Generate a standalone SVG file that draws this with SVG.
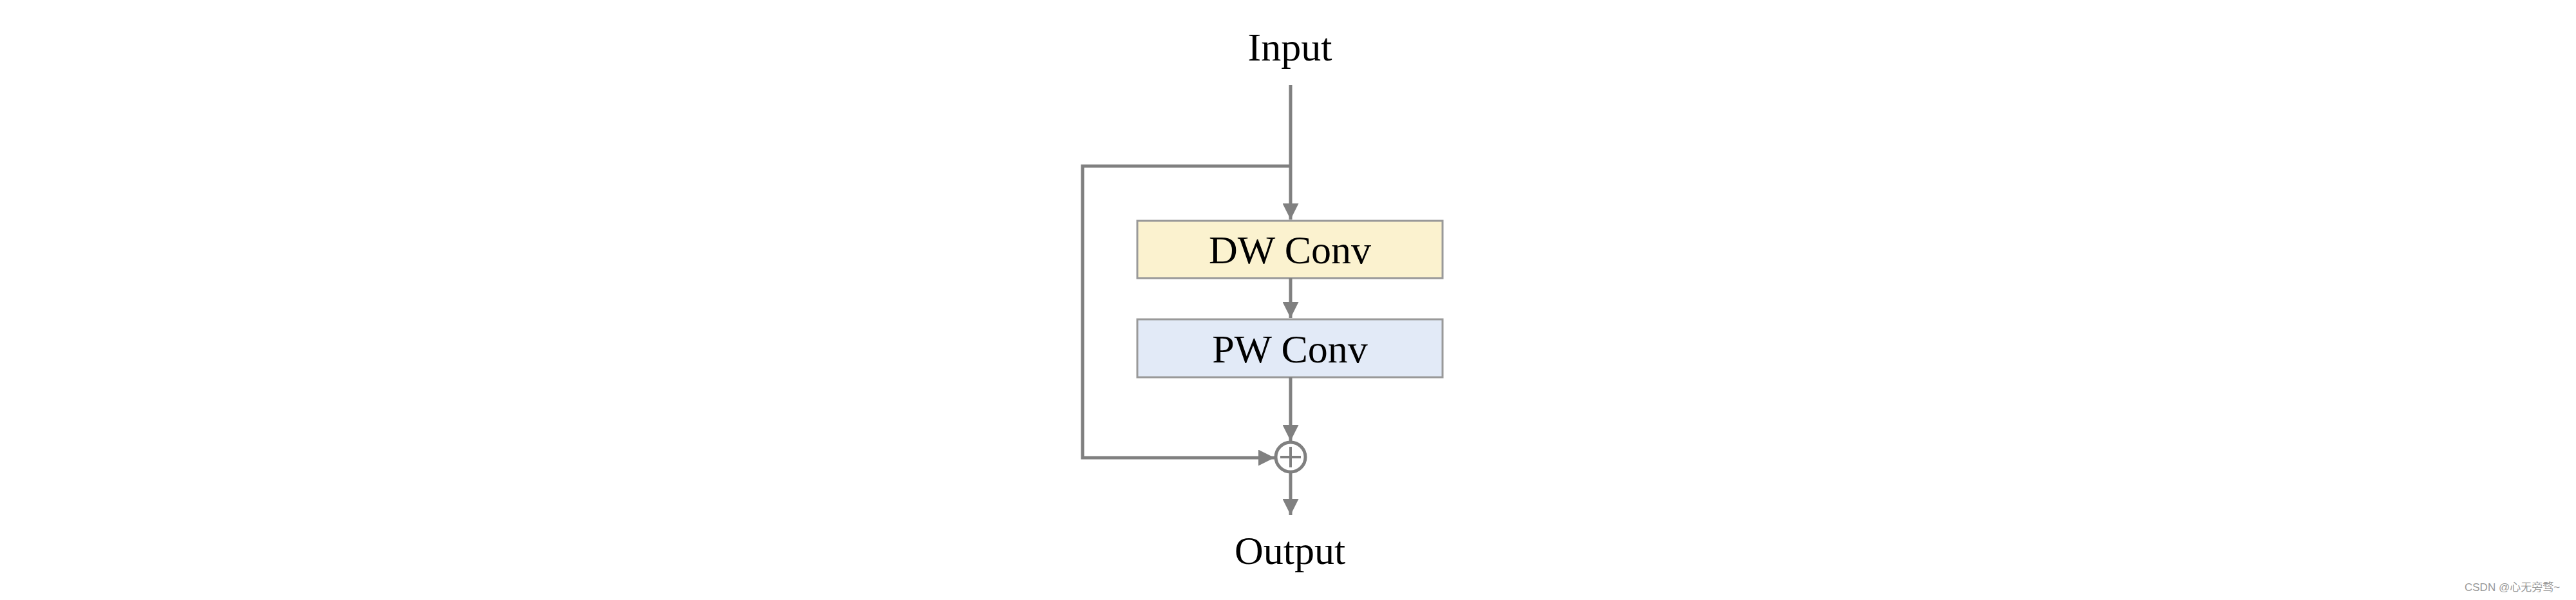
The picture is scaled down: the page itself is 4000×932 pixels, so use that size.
<svg xmlns="http://www.w3.org/2000/svg" width="4000" height="932" viewBox="0 0 4000 932">
<style>
.t{font-family:"Liberation Serif",serif;font-size:62px;fill:#000;text-anchor:middle}
.c{stroke:#808080;stroke-width:5;fill:none}
.b{stroke:#999;stroke-width:3}
</style>
<defs><marker id="a" viewBox="0 0 10 10" refX="10" refY="5" markerWidth="5" markerHeight="5" orient="auto" markerUnits="strokeWidth"><path d="M0,0L10,5L0,10z" fill="#808080"/></marker></defs>
<rect width="4000" height="932" fill="#fff"/>
<g id="input"><text class="t" x="2003" y="94">Input</text></g>
<g id="dw"><rect class="b" x="1766" y="343" width="474" height="89" fill="#fbf2cf"/><text class="t" x="2003" y="409">DW Conv</text></g>
<g id="pw"><rect class="b" x="1766" y="496" width="474" height="90" fill="#e2eaf7"/><text class="t" x="2003" y="563">PW Conv</text></g>
<g id="add"><circle cx="2004" cy="710" r="23" fill="#fff" stroke="#808080" stroke-width="5"/><path d="M2004,694V726M1988,710H2020" stroke="#808080" stroke-width="4"/></g>
<g id="output"><text class="t" x="2003" y="876">Output</text></g>
<g id="connectors">
<path class="c" d="M2004,132V341" marker-end="url(#a)"/>
<path class="c" d="M2004,258H1681V711H1979" marker-end="url(#a)"/>
<path class="c" d="M2004,432V494" marker-end="url(#a)"/>
<path class="c" d="M2004,586V685" marker-end="url(#a)"/>
<path class="c" d="M2004,733V800" marker-end="url(#a)"/>
</g>
<text x="3827" y="918" font-family="Liberation Sans,Noto Sans CJK SC,sans-serif" font-size="17" fill="#999">CSDN @心无旁骛~</text>
</svg>
